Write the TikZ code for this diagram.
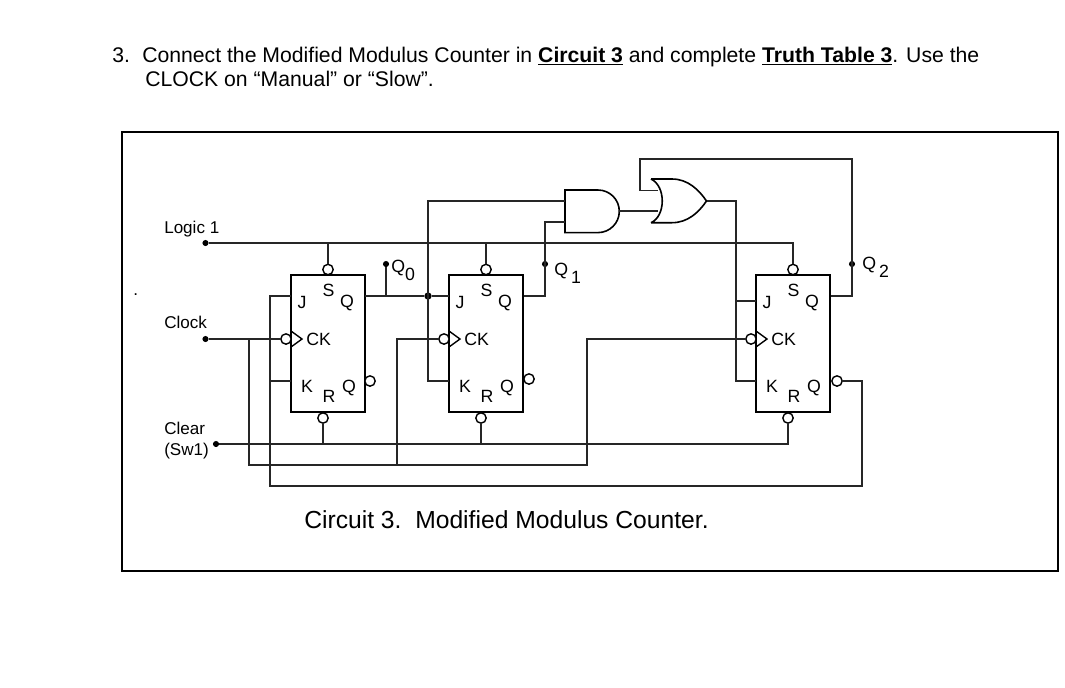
\documentclass[tikz,border=0pt]{standalone}
\usepackage{fontspec}
\setmainfont{Liberation Sans}
\usepackage{tikz}

\begin{document}
\begin{tikzpicture}
        [x=0.75pt,y=-0.75pt,line join=miter,
         wire/.style={draw=black!85,line width=1.05pt},
         flop/.style={rectangle,draw=black,line width=1.4pt,minimum width=55.5pt,minimum height=102.75pt,inner sep=0pt,outer sep=0pt},
         bubble/.style={circle,draw=black,fill=white,line width=1.05pt,minimum size=7.8pt,inner sep=0pt,outer sep=0pt},
         dot/.style={circle,fill=black,minimum size=4.6pt,inner sep=0pt,outer sep=0pt},
         pin/.style={anchor=base,inner sep=0pt,font=\fontsize{13.3}{15}\selectfont},
         lbl/.style={anchor=base west,inner sep=0pt,font=\fontsize{12.8}{15}\selectfont},
         top/.style={anchor=base west,inner sep=0pt,font=\fontsize{15.9}{18}\selectfont}]
        \useasboundingbox (0,0) rectangle (1065,687);
        \node (frame) at (590,351.5) [rectangle,draw=black,line width=1.2pt,minimum width=702pt,minimum height=329.25pt,inner sep=0pt] {};
        % heading and labels
        \node (num) at (112,62) [top] {3.};
        \node (line1) at (142,62) [top] {Connect the Modified Modulus Counter in \underline{\textbf{Circuit 3}} and complete \underline{\textbf{Truth Table 3}}. Use the};
        \node (line2) at (145,86) [top] {CLOCK on “Manual” or “Slow”.};
        \node (caption) at (304,528) [anchor=base west,inner sep=0pt,font=\fontsize{18.5}{20}\selectfont] {Circuit 3.\ \ Modified Modulus Counter.};
        \node (stray) at (133,295) [lbl] {.};
        \node (logic) at (164,233) [lbl] {Logic 1};
        \node (clock) at (164,328) [lbl] {Clock};
        \node (clear) at (164,434) [lbl] {Clear};
        \node (sw) at (164,455) [lbl] {(Sw1)};
        \node (in1) at (205.5,243) [dot] {};
        \node (inck) at (205.5,339) [dot] {};
        \node (inclr) at (216,444) [dot] {};
        % the three flip-flops
        \foreach \n/\x/\qx/\qy in {a/291/79/381,b/449/80/379,c/756/81/381}
          {
            \node (\n) at (\x+37,343.5) [flop] {};
            \node (\n S) at (\x+37,269.5) [bubble] {};
            \node (\n R) at (\x+32,418) [bubble] {};
            \node (\n C) at (\x-5,339) [bubble] {};
            \node (\n N) at (\x+\qx,\qy) [bubble] {};
            \draw [line width=1.05pt] (\x,331) -- (\x+11,339) -- (\x,347);
            \path node at (\x+11,308) [pin] {J}
                  node at (\x+37.5,296) [pin] {S}
                  node at (\x+56,307) [pin] {Q}
                  node at (\x+15,345) [pin,anchor=base west] {CK}
                  node at (\x+16,392) [pin] {K}
                  node at (\x+58,392) [pin] {Q}
                  node at (\x+38,402) [pin] {R};
          }
        % gates
        \coordinate (andA) at (565,201);
        \coordinate (andB) at (565,222);
        \coordinate (andY) at (619,211);
        \coordinate (orA) at (658,190.5);
        \coordinate (orB) at (658,211);
        \coordinate (orY) at (706.5,201);
        \draw [line width=1.2pt] (565,190) -- (598,190) arc (-90:90:21.3) -- (565,232.6) -- cycle;
        \draw [line width=1.2pt] (651,179) -- (672,179) .. controls (688,179) and (699,190) .. (orY)
              .. controls (699,212) and (688,222.7) .. (672,222.7) -- (651,222.7)
              (651,179) .. controls (666,186) and (666,216) .. (651,222.7);
        % tap points
        \node (tq0) at (386,264) [dot] {};
        \node (tq1) at (545,264) [dot] {};
        \node (tq2) at (852,264) [dot] {};
        \node (tj) at (428,296) [dot,minimum size=5.5pt] {};
        \coordinate (aJ) at (291,296);
        \coordinate (aK) at (291,381);
        \coordinate (aQ) at (365,296);
        \coordinate (bJ) at (449,296);
        \coordinate (bK) at (449,381);
        \coordinate (bQ) at (524,296);
        \coordinate (cJ) at (756,301);
        \coordinate (cK) at (756,381);
        \coordinate (cQ) at (831,296);
        \coordinate (ckb) at (249,465);
        \coordinate (fbl) at (270,486);
        \coordinate (fbr) at (862,486);
        % wires
        \draw [wire] (in1) -- (in1 -| cS.north) -- (cS.north);
        \draw [wire] (aS.north) -- (aS.north |- in1);
        \draw [wire] (bS.north) -- (bS.north |- in1);
        \draw [wire] (inck) -- (aC.west);
        \draw [wire] (249,339) -- (ckb) -- (587,465) -- (587,339) -- (cC.west);
        \draw [wire] (397,465) -- (397,339) -- (bC.west);
        \draw [wire] (inclr) -- (inclr -| cR.south) -- (cR.south);
        \draw [wire] (aR.south) -- (aR.south |- inclr);
        \draw [wire] (bR.south) -- (bR.south |- inclr);
        \draw [wire] (aQ) -- (tj) -- (bJ);
        \draw [wire] (tq0) -- (386,296);
        \draw [wire] (andA) -- (428,201) -- (428,381) -- (bK);
        \draw [wire] (bQ) -- (545,296) -- (545,222) -- (andB);
        \draw [wire] (andY) -- (orB);
        \draw [wire] (orY) -- (736,201) -- (736,381) -- (cK);
        \draw [wire] (736,301) -- (cJ);
        \draw [wire] (cQ) -- (852,296) -- (852,159) -- (640,159) -- (640,190.5) -- (orA);
        \draw [wire] (cN.east) -- (862,381) -- (fbr) -- (fbl) -- (270,296) -- (aJ);
        \draw [wire] (270,381) -- (aK);
        % outputs
        \node (q0) at (391,272) [lbl,font=\fontsize{13.3}{15}\selectfont] {Q\raisebox{-6pt}{0}};
        \node (q1) at (554,275) [lbl,font=\fontsize{13.3}{15}\selectfont] {Q\raisebox{-6pt}{\,1}};
        \node (q2) at (862,269) [lbl,font=\fontsize{13.3}{15}\selectfont] {Q\raisebox{-6.5pt}{\,2}};
      \end{tikzpicture}
\end{document}
